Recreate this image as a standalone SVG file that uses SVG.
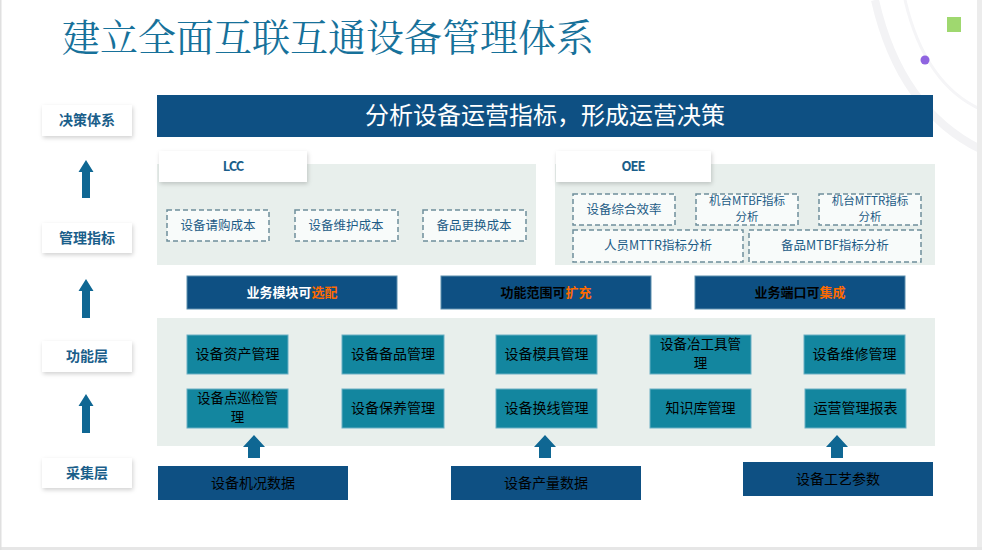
<svg xmlns="http://www.w3.org/2000/svg" width="982" height="550" viewBox="0 0 982 550">
<defs>
<filter id="sh" x="-20%" y="-30%" width="140%" height="170%">
<feDropShadow dx="1" dy="2" stdDeviation="2" flood-color="#000" flood-opacity="0.18"/>
</filter>
<style>
text{font-family:"Noto Sans CJK SC","Noto Sans",sans-serif;}
.lbl{fill:#fff;filter:url(#sh);}
.lbt{font-size:14px;font-weight:bold;fill:#1a5e8a;text-anchor:middle;}
.arr{fill:#0f6793;}
.panel{fill:#e8efec;}
.tab{fill:#fff;filter:url(#sh);}
.tabt{font-size:13px;font-weight:bold;fill:#1a5e8a;text-anchor:middle;letter-spacing:-1px;}
.dash{fill:#f8fbfa;stroke:#6d8f9b;stroke-width:1.5;stroke-dasharray:5 3;}
.dt{font-size:12.5px;fill:#1d5c86;text-anchor:middle;}
.dt2{font-size:11.5px;fill:#1d5c86;text-anchor:middle;}
.bar{fill:#0e5083;stroke:#5d8fae;stroke-width:1;}
.bt{font-size:13px;font-weight:bold;text-anchor:middle;}
.fn{fill:#13869f;stroke:#6bb0c4;stroke-width:1;}
.ft{font-size:14px;fill:#000;text-anchor:middle;}
.ft2{font-size:13.5px;fill:#000;text-anchor:middle;}
.src{fill:#0e5083;}
</style>
</defs>
<rect width="982" height="550" fill="#fff"/>
<!-- decorations -->
<path d="M875 0 Q900 110 982 150" fill="none" stroke="#f3f3f5" stroke-width="8"/>
<path d="M905 0 Q925 85 982 110" fill="none" stroke="#f5f5f7" stroke-width="3"/>
<rect x="947" y="17" width="14" height="15" fill="#9fd86f"/>
<circle cx="925" cy="60" r="4.5" fill="#8f64e0"/>
<rect x="977" y="0" width="5" height="550" fill="#ececec"/>
<rect x="0" y="547" width="982" height="3" fill="#e6e6e6"/>
<rect x="0" y="0" width="1.5" height="550" fill="#e0e0e0"/>
<text x="62" y="51" font-size="38" fill="#17719a" style="font-family:'Noto Serif CJK SC','Noto Sans CJK SC',serif;">建立全面互联互通设备管理体系</text>

<g id="banner">
<rect x="157" y="95" width="776" height="42" fill="#0e5083"/>
<text x="545" y="124" font-size="24" fill="#fff" text-anchor="middle">分析设备运营指标，形成运营决策</text>
</g>

<g id="label-decision"><rect class="lbl" x="42" y="105" width="90" height="31"/><text class="lbt" x="87" y="125">决策体系</text></g>
<g id="label-index"><rect class="lbl" x="42" y="223" width="90" height="30"/><text class="lbt" x="87" y="243">管理指标</text></g>
<g id="label-function"><rect class="lbl" x="42" y="341" width="90" height="31"/><text class="lbt" x="87" y="361">功能层</text></g>
<g id="label-collect"><rect class="lbl" x="42" y="458" width="90" height="30"/><text class="lbt" x="87" y="478">采集层</text></g>

<g id="lcc">
<rect class="panel" x="157" y="164" width="379" height="101"/>
<rect class="tab" x="159" y="151" width="148" height="31"/>
<text class="tabt" x="233" y="171">LCC</text>
<g id="lcc-1"><rect class="dash" x="167" y="210" width="102" height="31"/><text class="dt" x="218" y="230">设备请购成本</text></g>
<g id="lcc-2"><rect class="dash" x="295" y="210" width="103" height="31"/><text class="dt" x="346" y="230">设备维护成本</text></g>
<g id="lcc-3"><rect class="dash" x="423" y="210" width="103" height="31"/><text class="dt" x="474" y="230">备品更换成本</text></g>
</g>

<g id="oee">
<rect class="panel" x="555" y="164" width="380" height="101"/>
<rect class="tab" x="556" y="151" width="155" height="31"/>
<text class="tabt" x="633" y="171">OEE</text>
<g id="oee-1"><rect class="dash" x="573" y="194" width="102" height="31"/><text class="dt" x="624" y="214">设备综合效率</text></g>
<g id="oee-2"><rect class="dash" x="696" y="194" width="102" height="31"/><text class="dt2" x="747" y="205">机台MTBF指标</text><text class="dt2" x="747" y="221">分析</text></g>
<g id="oee-3"><rect class="dash" x="819" y="194" width="102" height="31"/><text class="dt2" x="870" y="205">机台MTTR指标</text><text class="dt2" x="870" y="221">分析</text></g>
<g id="oee-4"><rect class="dash" x="573" y="230" width="170" height="32"/><text class="dt" x="658" y="250">人员MTTR指标分析</text></g>
<g id="oee-5"><rect class="dash" x="749" y="230" width="172" height="32"/><text class="dt" x="835" y="250">备品MTBF指标分析</text></g>
</g>

<g id="bar-1"><rect class="bar" x="187" y="276" width="210" height="33"/><text class="bt" x="292" y="297"><tspan fill="#fff">业务模块可</tspan><tspan fill="#ff6a00">选配</tspan></text></g>
<g id="bar-2"><rect class="bar" x="441" y="276" width="210" height="33"/><text class="bt" x="546" y="297"><tspan fill="#000">功能范围可</tspan><tspan fill="#ff6a00">扩充</tspan></text></g>
<g id="bar-3"><rect class="bar" x="695" y="276" width="210" height="33"/><text class="bt" x="800" y="297"><tspan fill="#000">业务端口可</tspan><tspan fill="#ff6a00">集成</tspan></text></g>

<rect class="panel" x="157" y="318" width="778" height="128"/>
<g id="fn-1"><rect class="fn" x="187" y="335" width="101" height="39"/><text class="ft" x="237.5" y="359">设备资产管理</text></g>
<g id="fn-2"><rect class="fn" x="342" y="335" width="102" height="39"/><text class="ft" x="393" y="359">设备备品管理</text></g>
<g id="fn-3"><rect class="fn" x="496" y="335" width="101" height="39"/><text class="ft" x="546.5" y="359">设备模具管理</text></g>
<g id="fn-4"><rect class="fn" x="650" y="335" width="101" height="39"/><text class="ft2" x="700.5" y="349">设备冶工具管</text><text class="ft2" x="700.5" y="368">理</text></g>
<g id="fn-5"><rect class="fn" x="804" y="335" width="101" height="39"/><text class="ft" x="854.5" y="359">设备维修管理</text></g>
<g id="fn-6"><rect class="fn" x="187" y="389" width="101" height="39"/><text class="ft2" x="237.5" y="403">设备点巡检管</text><text class="ft2" x="237.5" y="422">理</text></g>
<g id="fn-7"><rect class="fn" x="342" y="389" width="102" height="39"/><text class="ft" x="393" y="413">设备保养管理</text></g>
<g id="fn-8"><rect class="fn" x="496" y="389" width="101" height="39"/><text class="ft" x="546.5" y="413">设备换线管理</text></g>
<g id="fn-9"><rect class="fn" x="650" y="389" width="101" height="39"/><text class="ft" x="700.5" y="413">知识库管理</text></g>
<g id="fn-10"><rect class="fn" x="805" y="389" width="101" height="39"/><text class="ft" x="855.5" y="413">运营管理报表</text></g>

<g id="src-1"><rect class="src" x="158" y="466" width="190" height="34"/><text class="ft" x="253" y="488">设备机况数据</text></g>
<g id="src-2"><rect class="src" x="451" y="466" width="190" height="34"/><text class="ft" x="546" y="488">设备产量数据</text></g>
<g id="src-3"><rect class="src" x="743" y="462" width="190" height="34"/><text class="ft" x="838" y="484">设备工艺参数</text></g>

<g id="connectors">
<path class="arr" d="M82 198 V172 H78.5 L86 160 L93.5 172 H90 V198 Z"/>
<path class="arr" d="M82 318 V291 H78.5 L86 279 L93.5 291 H90 V318 Z"/>
<path class="arr" d="M82 433 V406 H78.5 L86 394 L93.5 406 H90 V433 Z"/>
<path class="arr" d="M248 458 V447 H243 L254 435 L265 447 H260 V458 Z"/>
<path class="arr" d="M539 458 V447 H534 L545 435 L556 447 H551 V458 Z"/>
<path class="arr" d="M831 458 V447 H826 L837 435 L848 447 H843 V458 Z"/>
</g>
</svg>
